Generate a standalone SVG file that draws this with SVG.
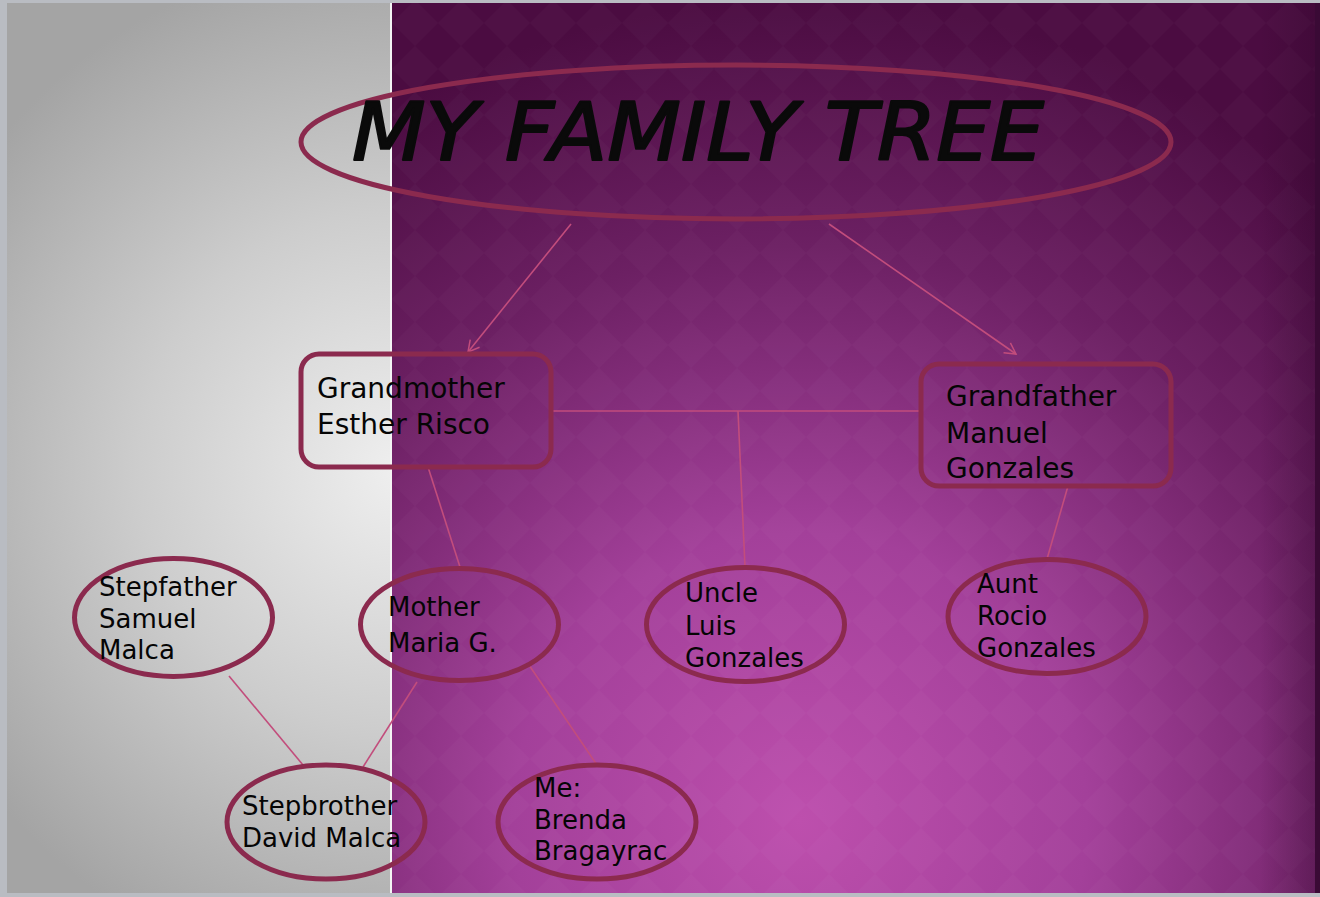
<svg xmlns="http://www.w3.org/2000/svg" width="1320" height="897" viewBox="0 0 1320 897">
<defs>
<radialGradient id="gray" gradientUnits="userSpaceOnUse" cx="400" cy="470" r="520">
<stop offset="0" stop-color="#efefef"/>
<stop offset="0.5" stop-color="#cdcdcd"/>
<stop offset="1" stop-color="#a4a4a4"/>
</radialGradient>
<radialGradient id="purp" gradientUnits="userSpaceOnUse" cx="800" cy="820" r="820">
<stop offset="0" stop-color="#bd4fad"/>
<stop offset="0.35" stop-color="#a3409a"/>
<stop offset="0.7" stop-color="#6c2063"/>
<stop offset="1" stop-color="#4b0c41"/>
</radialGradient>
<linearGradient id="rshade" x1="0" y1="0" x2="1" y2="0">
<stop offset="0" stop-color="#2a0526" stop-opacity="0"/>
<stop offset="1" stop-color="#2a0526" stop-opacity="0.3"/>
</linearGradient>
<pattern id="diam" width="46" height="46" patternUnits="userSpaceOnUse" x="392" y="0">
<path d="M23 0 L46 23 L23 46 L0 23 Z" fill="#ffffff" fill-opacity="0.02"/>
</pattern>
<marker id="arr" markerWidth="14" markerHeight="14" refX="12" refY="7" orient="auto" markerUnits="userSpaceOnUse">
<path d="M1 1 L12 7 L1 13" fill="none" stroke="#c24d7c" stroke-width="1.5"/>
</marker>
<style>
.node{fill:none;stroke:#8b2a4e;stroke-width:5}
.lbl{font-family:"DejaVu Sans",Verdana,sans-serif;font-size:26px;fill:#050505}
.big{font-size:28px}
.con{stroke:#c24d7c;stroke-width:1.6;fill:none}
</style>
</defs>
<rect x="0" y="0" width="1320" height="897" fill="#b9bcc2"/>
<rect x="7" y="3" width="385" height="890" fill="url(#gray)"/>
<rect x="392" y="3" width="926" height="890" fill="url(#purp)"/>
<rect x="392" y="3" width="926" height="890" fill="url(#diam)"/>
<rect x="1260" y="3" width="58" height="890" fill="url(#rshade)"/>
<rect x="1315" y="3" width="5" height="890" fill="#3a0a35"/>
<line x1="391" y1="3" x2="391" y2="893" stroke="#f4f4f4" stroke-width="2"/>

<g id="connectors">
<line class="con" x1="571" y1="224" x2="468" y2="352" marker-end="url(#arr)"/>
<line class="con" x1="829" y1="224" x2="1016" y2="354" marker-end="url(#arr)"/>
<line class="con" x1="551" y1="411" x2="921" y2="411"/>
<line class="con" x1="738" y1="411" x2="745" y2="567"/>
<line class="con" x1="428" y1="467" x2="460" y2="567"/>
<line class="con" x1="1068" y1="486" x2="1047" y2="559"/>
<line class="con" x1="229" y1="676" x2="303" y2="765"/>
<line class="con" x1="417" y1="682" x2="363" y2="767"/>
<line class="con" x1="529" y1="665" x2="597" y2="765"/>
</g>

<g id="title">
<ellipse class="node" cx="736" cy="142" rx="435" ry="77" stroke-width="4.5"/>
<text x="352" y="160" font-family="'DejaVu Sans',sans-serif" font-style="italic" font-size="80" fill="#0a0a0a" stroke="#0a0a0a" stroke-width="2.2" stroke-linejoin="round" textLength="692" lengthAdjust="spacingAndGlyphs">MY FAMILY TREE</text>
</g>

<g id="grandmother">
<rect class="node" x="301" y="354" width="250" height="113" rx="18"/>
<text class="lbl big" x="317" y="398">Grandmother</text>
<text class="lbl big" x="317" y="434">Esther Risco</text>
</g>

<g id="grandfather">
<rect class="node" x="921" y="364" width="250" height="122" rx="18"/>
<text class="lbl big" x="946" y="406">Grandfather</text>
<text class="lbl big" x="946" y="443">Manuel</text>
<text class="lbl big" x="946" y="478">Gonzales</text>
</g>

<g id="stepfather">
<ellipse class="node" cx="173.5" cy="617.5" rx="99" ry="59"/>
<text class="lbl" x="99" y="596">Stepfather</text>
<text class="lbl" x="99" y="628">Samuel</text>
<text class="lbl" x="99" y="659">Malca</text>
</g>

<g id="mother">
<ellipse class="node" cx="459.5" cy="624.5" rx="99" ry="56"/>
<text class="lbl" x="388" y="616">Mother</text>
<text class="lbl" x="388" y="652">Maria G.</text>
</g>

<g id="uncle">
<ellipse class="node" cx="745.5" cy="624.5" rx="99" ry="57"/>
<text class="lbl" x="685" y="602">Uncle</text>
<text class="lbl" x="685" y="635">Luis</text>
<text class="lbl" x="685" y="667">Gonzales</text>
</g>

<g id="aunt">
<ellipse class="node" cx="1047" cy="616.5" rx="99" ry="57"/>
<text class="lbl" x="977" y="593">Aunt</text>
<text class="lbl" x="977" y="625">Rocio</text>
<text class="lbl" x="977" y="657">Gonzales</text>
</g>

<g id="stepbrother">
<ellipse class="node" cx="326" cy="822" rx="99" ry="57"/>
<text class="lbl" x="242" y="815">Stepbrother</text>
<text class="lbl" x="242" y="847">David Malca</text>
</g>

<g id="me">
<ellipse class="node" cx="597" cy="822" rx="99" ry="57"/>
<text class="lbl" x="534" y="797">Me:</text>
<text class="lbl" x="534" y="829">Brenda</text>
<text class="lbl" x="534" y="860">Bragayrac</text>
</g>
</svg>
